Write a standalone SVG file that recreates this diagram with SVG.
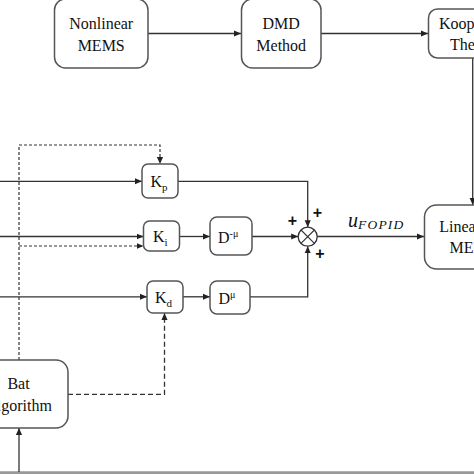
<svg xmlns="http://www.w3.org/2000/svg" width="474" height="474" viewBox="0 0 474 474">
<defs>
<marker id="ah" viewBox="0 0 8 8" refX="8" refY="4" markerWidth="7" markerHeight="7" markerUnits="userSpaceOnUse" orient="auto">
<path d="M0,0.5 L8,4 L0,7.5 Z" fill="#222"/>
</marker>
<style>
.box{fill:#fff;stroke:#555;stroke-width:1.5}
.t{font-family:"Liberation Serif","Times New Roman",serif;font-size:16px;fill:#111}
.k{font-family:"Liberation Serif","Times New Roman",serif;font-size:16px;fill:#111}
.ln{fill:none;stroke:#333;stroke-width:1.3}
.d1{fill:none;stroke:#333;stroke-width:1.2;stroke-dasharray:3 2}
.d2{fill:none;stroke:#333;stroke-width:1.3;stroke-dasharray:5 3}
.pl{font-family:"Liberation Sans",Arial,sans-serif;font-size:16px;font-weight:bold;fill:#111}
</style>
</defs>
<rect width="474" height="474" fill="#fff"/>

<g id="connectors">
<path class="ln" d="M148,33.5 H241" marker-end="url(#ah)"/>
<path class="ln" d="M321,33.5 H428" marker-end="url(#ah)"/>
<path class="ln" d="M472.7,58 V205" marker-end="url(#ah)"/>
<path class="ln" d="M0,181.3 H142" marker-end="url(#ah)"/>
<path class="ln" d="M0,236.5 H143.5" marker-end="url(#ah)"/>
<path class="ln" d="M0,296.8 H147" marker-end="url(#ah)"/>
<path class="ln" d="M179.5,236.5 H210" marker-end="url(#ah)"/>
<path class="ln" d="M183,296.8 H210" marker-end="url(#ah)"/>
<path class="ln" d="M178,181.3 H307.7 V227.2" marker-end="url(#ah)"/>
<path class="ln" d="M252,236.5 H298.2" marker-end="url(#ah)"/>
<path class="ln" d="M250,296.8 H307.7 V246.2" marker-end="url(#ah)"/>
<path class="ln" d="M317.2,236.5 H424" marker-end="url(#ah)"/>
<path class="d1" d="M19,360 V145 H160 V164" marker-end="url(#ah)"/>
<path class="d1" d="M19,246 H143.5" marker-end="url(#ah)"/>
<path class="d2" d="M68,394.3 H164.5 V313" marker-end="url(#ah)"/>
<path d="M0,472.8 H474" stroke="#999" stroke-width="3"/>
<path class="ln" d="M19,472 V428" marker-end="url(#ah)"/>
</g>

<g id="nonlinear-mems">
<rect class="box" x="54.5" y="-1" width="93.5" height="69" rx="11"/>
<text class="t" x="101.2" y="29" text-anchor="middle">Nonlinear</text>
<text class="t" x="101.2" y="51" text-anchor="middle">MEMS</text>
</g>
<g id="dmd-method">
<rect class="box" x="241.5" y="-1" width="79.5" height="69" rx="11"/>
<text class="t" x="281.2" y="29" text-anchor="middle">DMD</text>
<text class="t" x="281.2" y="51" text-anchor="middle">Method</text>
</g>
<g id="koopman-theory">
<rect class="box" x="428.5" y="9" width="90" height="49" rx="9"/>
<text class="t" x="439" y="29">Koopman</text>
<text class="t" x="450" y="50">Theory</text>
</g>
<g id="linear-mems">
<rect class="box" x="424.5" y="205" width="90" height="64" rx="12"/>
<text class="t" x="439.3" y="232">Linear</text>
<text class="t" x="449.5" y="253">MEMS</text>
</g>
<g id="kp">
<rect class="box" x="142" y="164" width="36" height="34" rx="6"/>
<text class="k" x="150.5" y="187">K<tspan font-size="11" dy="4">p</tspan></text>
</g>
<g id="ki">
<rect class="box" x="143.5" y="221" width="36" height="30" rx="6"/>
<text class="k" x="153" y="242">K<tspan font-size="11" dy="4">i</tspan></text>
</g>
<g id="kd">
<rect class="box" x="147" y="281" width="36" height="32" rx="6"/>
<text class="k" x="155" y="302.5">K<tspan font-size="11" dy="4">d</tspan></text>
</g>
<g id="d-minus-mu">
<rect class="box" x="210" y="217" width="42" height="38" rx="7"/>
<text class="k" x="218" y="242.5" font-size="17">D<tspan font-size="10" dy="-6">-μ</tspan></text>
</g>
<g id="d-mu">
<rect class="box" x="210" y="281" width="40" height="33" rx="7"/>
<text class="k" x="218.5" y="303.5" font-size="17">D<tspan font-size="10" dy="-6">μ</tspan></text>
</g>
<g id="sum">
<circle cx="307.7" cy="236.7" r="9.5" fill="#fff" stroke="#333" stroke-width="1.3"/>
<path d="M301,230 L314.4,243.4 M314.4,230 L301,243.4" stroke="#333" stroke-width="1.1"/>
<text class="pl" x="292.3" y="225.5" text-anchor="middle">+</text>
<text class="pl" x="317.3" y="218" text-anchor="middle">+</text>
<text class="pl" x="320" y="258.7" text-anchor="middle">+</text>
</g>
<g id="u-label">
<text x="348" y="227" font-family="'Liberation Serif','Times New Roman',serif" font-style="italic" font-size="20" fill="#111">u<tspan font-size="13.5" dy="1.5" letter-spacing="1.2">FOPID</tspan></text>
</g>
<g id="bat-algorithm">
<rect class="box" x="-31" y="360" width="99" height="68" rx="12"/>
<text class="t" x="18.5" y="389" text-anchor="middle">Bat</text>
<text class="t" x="18.5" y="411" text-anchor="middle">Algorithm</text>
</g>
</svg>
